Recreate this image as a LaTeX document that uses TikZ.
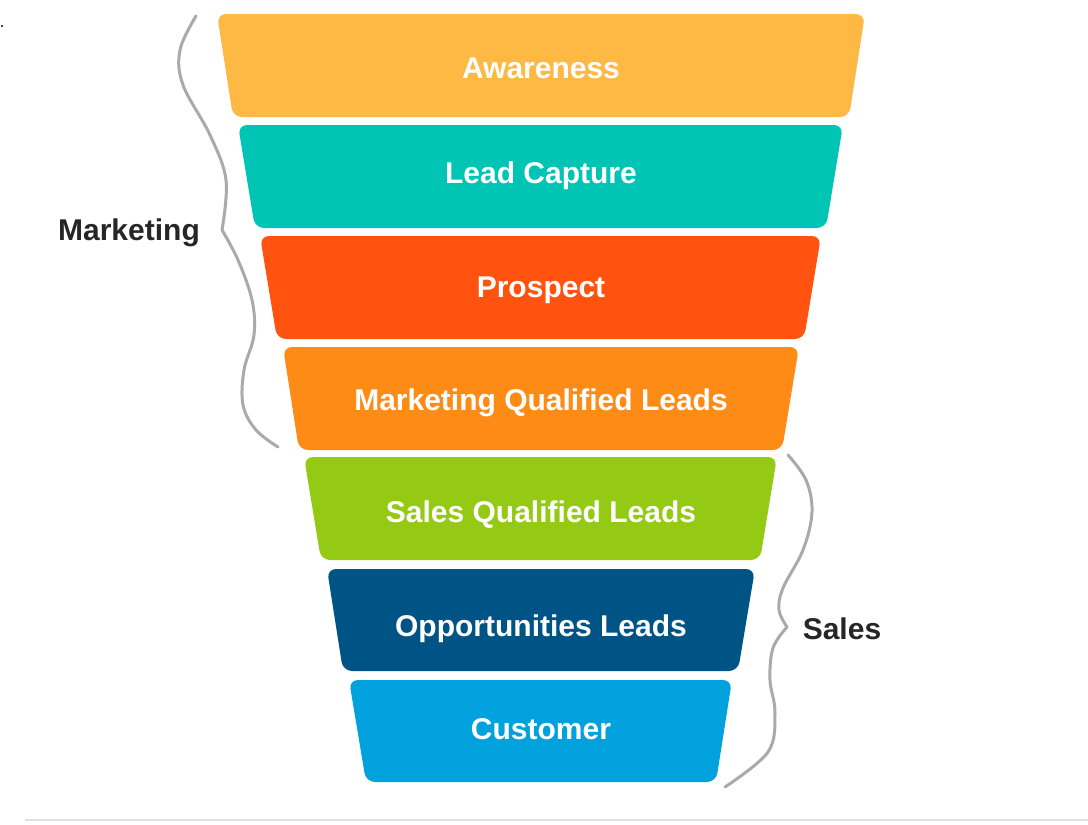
\documentclass[tikz,border=0pt]{standalone}
\usepackage{fontspec}
\setmainfont{Liberation Sans}
\definecolor{cAw}{HTML}{FDB944}
\definecolor{cLc}{HTML}{00C5B4}
\definecolor{cPr}{HTML}{FF530F}
\definecolor{cMq}{HTML}{FF8B17}
\definecolor{cSq}{HTML}{94C914}
\definecolor{cOp}{HTML}{005485}
\definecolor{cCu}{HTML}{00A1DC}
\definecolor{braceg}{HTML}{AAAAAA}
\definecolor{labelc}{HTML}{262626}
\begin{document}
\begin{tikzpicture}[x=1pt,y=-1pt,
  band/.style={rounded corners=9pt},
  bandtext/.style={text=white,font=\fontsize{30}{36}\selectfont\bfseries,anchor=base,inner sep=0pt},
  sidelabel/.style={text=labelc,font=\fontsize{30}{36}\selectfont\bfseries,anchor=base,inner sep=0pt},
  bracestyle/.style={draw=braceg,line width=3pt,line cap=round,line join=round}]
\useasboundingbox (0,0) rectangle (1088,825);
\fill[white] (0,0) rectangle (1088,825);
% bands
\fill[band,cAw] (217,14) -- (865,14) -- (849,117) -- (233,117) -- cycle;
\fill[band,cLc] (238,125) -- (843,125) -- (826,228) -- (255,228) -- cycle;
\fill[band,cPr] (260,236) -- (821,236) -- (804,339) -- (277,339) -- cycle;
\fill[band,cMq] (283,347) -- (799,347) -- (782,450) -- (299,450) -- cycle;
\fill[band,cSq] (304,457) -- (777,457) -- (760,560) -- (321,560) -- cycle;
\fill[band,cOp] (327,569) -- (755,569) -- (738,671) -- (343,671) -- cycle;
\fill[band,cCu] (349,680) -- (732,680) -- (716,782) -- (366,782) -- cycle;
% texts
\node[bandtext] (aw) at (541,78) {Awareness};
\node[bandtext] (lc) at (541,183) {Lead Capture};
\node[bandtext] (pr) at (541,297) {Prospect};
\node[bandtext] (mq) at (541,410) {Marketing Qualified Leads};
\node[bandtext] (sq) at (541,522) {Sales Qualified Leads};
\node[bandtext] (op) at (541,636) {Opportunities Leads};
\node[bandtext] (cu) at (541,739) {Customer};
% side labels
\node[sidelabel] (mk) at (129,240) {Marketing};
\node[sidelabel] (sl) at (842,639) {Sales};
% marketing brace
\draw[bracestyle] plot[smooth,tension=0.6] coordinates {(196,16) (180,50) (183,85) (210,135) (226,180) (222,230)};
\draw[bracestyle] plot[smooth,tension=0.6] coordinates {(222,230) (238,260) (252,300) (254,335) (244,370) (243,405) (256,430) (278,447)};
% sales brace
\draw[bracestyle] plot[smooth,tension=0.6] coordinates {(788,455) (806,480) (812,512) (803,550) (783,588) (779,610) (787,627)};
\draw[bracestyle] plot[smooth,tension=0.6] coordinates {(787,627) (773,648) (770,680) (775,713) (768,752) (725,787)};
% bottom rule and dot
\draw[color=black!12,line width=1.5pt] (25,820) -- (1088,820);
\fill[black] (2,26) circle (1.2);
\end{tikzpicture}
\end{document}
